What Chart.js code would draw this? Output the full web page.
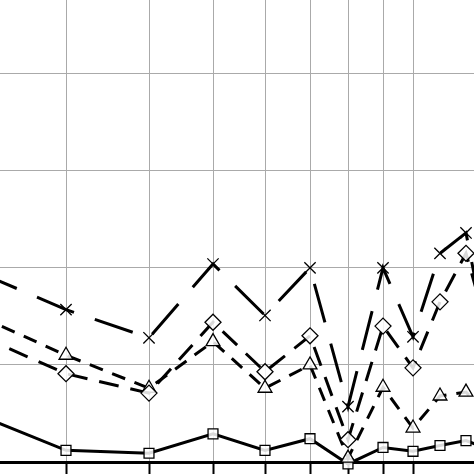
<!DOCTYPE html>
<html><head><meta charset="utf-8">
<script src="https://cdn.jsdelivr.net/npm/chart.js@4.4.0/dist/chart.umd.min.js"></script>
<style>html,body{margin:0;padding:0;background:#fff}#wrap{width:474px;height:474px}</style>
</head><body><div id="wrap"><canvas id="c"></canvas></div>
<script>
// x positions of the samples (first and last are off-canvas continuations)
const xs = [-20, 66, 149, 213, 265, 310, 348, 383, 413, 440, 466, 492];
const gridX = [66, 149, 213, 265, 310, 348, 383, 413];
const crossVals    = [1.95, 1.57, 1.28, 2.04, 1.51, 2.0, 0.57, 2.0, 1.29, 2.15, 2.36, 1.0];
const diamondVals  = [1.3, 0.91, 0.71, 1.44, 0.93, 1.3, 0.23, 1.4, 0.97, 1.65, 2.15, 1.2];
const triangleVals = [1.5, 1.1, 0.76, 1.24, 0.76, 1.0, 0.04, 0.77, 0.35, 0.68, 0.72, 0.45];
const squareVals   = [0.48, 0.12, 0.09, 0.29, 0.12, 0.24, -0.02, 0.15, 0.11, 0.17, 0.22, 0.12];

function pts(v){ return v.map((y,i)=>({x:xs[i], y:y})); }
function ds(vals, style, dash, r){
  return {data: pts(vals), borderColor:'#000', borderWidth:3, borderDash:dash,
    pointStyle:style, pointRadius:r, pointBorderColor:'#000', pointBorderWidth:1.3,
    pointBackgroundColor:'rgba(255,255,255,0.85)', tension:0, clip:false};
}
new Chart('c', {
  type:'line',
  data:{datasets:[
    ds(crossVals,'crossRot',[40,22],8),
    ds(diamondVals,'rectRot',[20,12],8),
    ds(triangleVals,'triangle',[14,10],8),
    ds(squareVals,'rect',[],7)
  ]},
  options:{
    responsive:true, maintainAspectRatio:false, animation:false,
    layout:{padding:0, autoPadding:false},
    plugins:{legend:{display:false}, tooltip:{enabled:false}},
    scales:{
      x:{type:'linear', min:0, max:474,
        afterBuildTicks:a=>{a.ticks=gridX.map(v=>({value:v}));},
        ticks:{display:false},
        grid:{color:'#aaa', lineWidth:1, drawTicks:true, tickLength:12, tickColor:'#000', tickWidth:2},
        border:{display:true, color:'#000', width:3}},
      y:{min:0, max:4.76,
        afterBuildTicks:a=>{a.ticks=[1,2,3,4].map(v=>({value:v}));},
        ticks:{display:false},
        grid:{color:'#aaa', lineWidth:1, drawTicks:false},
        border:{display:false}}
    }
  }
});
</script></body></html>
